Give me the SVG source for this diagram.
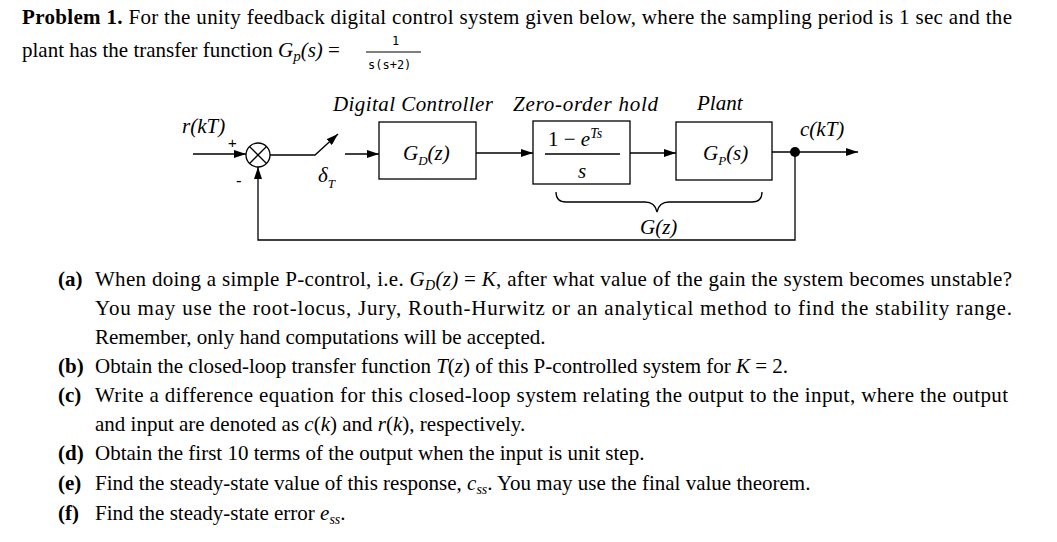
<svg xmlns="http://www.w3.org/2000/svg" width="1057" height="542" viewBox="0 0 1057 542">
<style>
.t{font-family:"Liberation Serif",serif;font-size:21px;fill:#000}
.i{font-style:italic}
.b{fill:none;stroke:#000;stroke-width:1.3}
.l{fill:none;stroke:#000;stroke-width:1.3}
.s{font-family:"Liberation Serif",serif;font-size:21px;font-style:italic}
</style>
<defs><marker id="a" markerWidth="12" markerHeight="8" refX="12" refY="4" orient="auto" markerUnits="userSpaceOnUse"><path d="M0,0L12,4L0,8z"/></marker></defs>
<rect width="1057" height="542" fill="#fff"/>
<text class="t" x="22" y="24" textLength="990"><tspan font-weight="bold">Problem 1.</tspan> For the unity feedback digital control system given below, where the sampling period is 1 sec and the</text>
<text class="t" x="22" y="57">plant has the transfer function <tspan class="i">G<tspan font-size="15" dy="4">p</tspan><tspan dy="-4">(s)</tspan></tspan> =</text>
<text x="392" y="45" font-family="DejaVu Sans Mono,monospace" font-size="12">1</text>
<line x1="366" y1="52" x2="421" y2="52" stroke="#000"/>
<text x="368" y="69" font-family="DejaVu Sans Mono,monospace" font-size="12">s(s+2)</text>
<g id="labels">
<text class="s" x="333" y="111" textLength="160">Digital Controller</text>
<text class="s" x="513" y="111" textLength="145">Zero-order hold</text>
<text class="s" x="697" y="110">Plant</text>
<text class="s" x="182" y="133">r(kT)</text>
<text class="s" x="800" y="136">c(kT)</text>
<text x="228" y="148" font-family="Liberation Sans,sans-serif" font-size="15">+</text>
<text x="236" y="186" font-family="Liberation Sans,sans-serif" font-size="17">-</text>
<text class="s" x="318" y="182">δ<tspan font-size="13" dy="6">T</tspan></text>
<text class="s" x="640" y="234">G(z)</text>
</g>
<g id="sum"><circle class="b" cx="258" cy="155" r="12"/><path class="l" d="M249.5,146.5L266.5,163.5M266.5,146.5L249.5,163.5"/></g>
<g id="gd"><rect class="b" x="379" y="122" width="97" height="57"/><text class="s" x="403" y="160">G<tspan font-size="13" dy="5">D</tspan><tspan dy="-5">(z)</tspan></text></g>
<g id="zoh"><rect class="b" x="533" y="121" width="97" height="63"/><text x="548" y="146" font-family="Liberation Serif,serif" font-size="21">1 − <tspan font-style="italic">e</tspan><tspan font-style="italic" font-size="14" dy="-8">Ts</tspan></text><line x1="545" y1="154" x2="620" y2="154" stroke="#000" stroke-width="1.5"/><text class="s" x="578" y="178">s</text></g>
<g id="plant"><rect class="b" x="676" y="122" width="96" height="58"/><text class="s" x="703" y="160">G<tspan font-size="13" dy="5">P</tspan><tspan dy="-5">(s)</tspan></text></g>
<g id="connectors">
<line class="l" x1="193" y1="154" x2="246" y2="154" marker-end="url(#a)"/>
<path class="l" d="M270,155H315L338,134" marker-end="url(#a)"/>
<line class="l" x1="345" y1="154" x2="379" y2="154" marker-end="url(#a)"/>
<line class="l" x1="476" y1="153" x2="533" y2="153" marker-end="url(#a)"/>
<line class="l" x1="630" y1="153" x2="676" y2="153" marker-end="url(#a)"/>
<line class="l" x1="772" y1="152" x2="858" y2="152" marker-end="url(#a)"/>
<circle cx="795" cy="152" r="5"/>
<path class="l" d="M795,152V240H258V167" marker-end="url(#a)"/>
<path class="l" d="M556,192Q556,202 566,202H645Q655,202 657,212Q659,202 669,202H752Q762,202 762,192"/>
</g>
<text class="t" x="58" y="286"><tspan font-weight="bold">(a)</tspan></text>
<text class="t" x="95" y="286" textLength="917">When doing a simple P-control, i.e. <tspan class="i">G<tspan font-size="14" dy="4">D</tspan><tspan dy="-4">(z)</tspan></tspan> = <tspan class="i">K</tspan>, after what value of the gain the system becomes unstable?</text>
<text class="t" x="95" y="315" textLength="917">You may use the root-locus, Jury, Routh-Hurwitz or an analytical method to find the stability range.</text>
<text class="t" x="95" y="344">Remember, only hand computations will be accepted.</text>
<text class="t" x="58" y="373"><tspan font-weight="bold">(b)</tspan></text>
<text class="t" x="95" y="373">Obtain the closed-loop transfer function <tspan class="i">T</tspan>(<tspan class="i">z</tspan>) of this P-controlled system for <tspan class="i">K</tspan> = 2.</text>
<text class="t" x="58" y="402"><tspan font-weight="bold">(c)</tspan></text>
<text class="t" x="95" y="402" textLength="913">Write a difference equation for this closed-loop system relating the output to the input, where the output</text>
<text class="t" x="95" y="431">and input are denoted as <tspan class="i">c</tspan>(<tspan class="i">k</tspan>) and <tspan class="i">r</tspan>(<tspan class="i">k</tspan>), respectively.</text>
<text class="t" x="58" y="460"><tspan font-weight="bold">(d)</tspan></text>
<text class="t" x="95" y="460">Obtain the first 10 terms of the output when the input is unit step.</text>
<text class="t" x="58" y="490"><tspan font-weight="bold">(e)</tspan></text>
<text class="t" x="95" y="490">Find the steady-state value of this response, <tspan class="i">c<tspan font-size="14" dy="4">ss</tspan></tspan><tspan dy="-4">. You may use the final value theorem.</tspan></text>
<text class="t" x="58" y="520"><tspan font-weight="bold">(f)</tspan></text>
<text class="t" x="95" y="520">Find the steady-state error <tspan class="i">e<tspan font-size="14" dy="4">ss</tspan></tspan><tspan dy="-4">.</tspan></text>
</svg>
